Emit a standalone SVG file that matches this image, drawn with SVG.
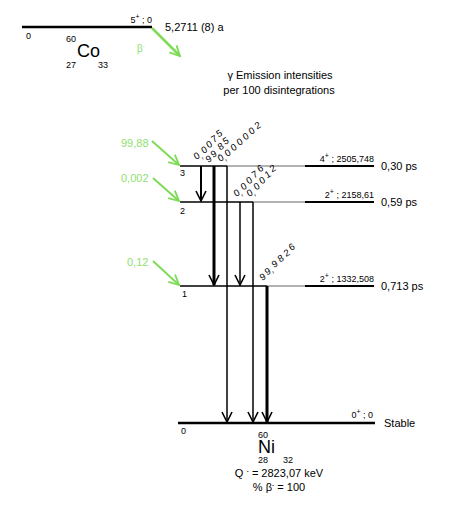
<svg xmlns="http://www.w3.org/2000/svg" width="474" height="518" viewBox="0 0 474 518">
<defs>
<style>
text{font-family:"Liberation Sans",Arial,sans-serif;fill:#000}
.s{font-size:9px}
.m{font-size:11px}
.big{font-size:18px}
.g{fill:#8fe070}
.lab{font-size:9px}
.st{font-size:10px}
.gl{font-size:9.5px}
.lvl{stroke:#000;stroke-width:2}
.thin{stroke:#666;stroke-width:1}
.gam{stroke:#000;fill:none}
.beta{stroke:#7ddc55;fill:none;stroke-width:2}
</style>
<marker id="ah" markerUnits="userSpaceOnUse" markerWidth="12" markerHeight="12" refX="0" refY="0" orient="auto" overflow="visible">
<path d="M-10,-5 L0,0 L-10,5" fill="none" stroke="#000" stroke-width="1.6"/>
</marker>
<marker id="gh" markerUnits="userSpaceOnUse" markerWidth="12" markerHeight="12" refX="0" refY="0" orient="auto" overflow="visible">
<path d="M-10,-5 L0,0 L-10,5" fill="none" stroke="#7ddc55" stroke-width="1.8"/>
</marker>
</defs>
<rect width="474" height="518" fill="#fff"/>

<g id="co60">
<line x1="22" y1="27" x2="152" y2="27" stroke="#000" stroke-width="2.5"/>
<text x="152" y="23" class="lab" text-anchor="end">5<tspan dy="-4" style="font-size:7px">+</tspan><tspan dy="4"> ; 0</tspan></text>
<text x="165" y="31" class="m">5,2711 (8) a</text>
<text x="26" y="39" class="s">0</text>
<text x="66" y="42" class="s">60</text>
<text x="77" y="57" class="big">Co</text>
<text x="66" y="68" class="s">27</text>
<text x="98" y="68" class="s">33</text>
</g>

<g id="title">
<text x="280" y="79" class="m" text-anchor="middle">γ Emission intensities</text>
<text x="279" y="94" class="m" text-anchor="middle">per 100 disintegrations</text>
</g>

<g id="level3">
<line x1="180" y1="166" x2="227" y2="166" class="lvl" style="stroke-width:1.5"/>
<line x1="227" y1="166" x2="305" y2="166" class="thin"/>
<line x1="305" y1="166" x2="374" y2="166" class="lvl"/>
<text x="374" y="162" class="lab" text-anchor="end">4<tspan dy="-4" style="font-size:7px">+</tspan><tspan dy="4"> ; 2505,748</tspan></text>
<text x="381" y="170" class="m">0,30 ps</text>
<text x="180" y="176" class="s">3</text>
</g>

<g id="level2">
<line x1="180" y1="202" x2="253" y2="202" class="lvl" style="stroke-width:1.5"/>
<line x1="253" y1="202" x2="305" y2="202" class="thin"/>
<line x1="305" y1="202" x2="374" y2="202" class="lvl"/>
<text x="374" y="198" class="lab" text-anchor="end">2<tspan dy="-4" style="font-size:7px">+</tspan><tspan dy="4"> ; 2158,61</tspan></text>
<text x="381" y="206" class="m">0,59 ps</text>
<text x="180" y="214" class="s">2</text>
</g>

<g id="level1">
<line x1="180" y1="286" x2="267" y2="286" class="lvl" style="stroke-width:1.5"/>
<line x1="267" y1="286" x2="305" y2="286" class="thin"/>
<line x1="305" y1="286" x2="374" y2="286" class="lvl"/>
<text x="374" y="282" class="lab" text-anchor="end">2<tspan dy="-4" style="font-size:7px">+</tspan><tspan dy="4"> ; 1332,508</tspan></text>
<text x="381" y="290" class="m">0,713 ps</text>
<text x="182" y="297" class="s">1</text>
</g>

<g id="ni60">
<line x1="178" y1="423" x2="375" y2="423" stroke="#000" stroke-width="2.5"/>
<text x="373" y="418" class="lab" text-anchor="end">0<tspan dy="-4" style="font-size:7px">+</tspan><tspan dy="4"> ; 0</tspan></text>
<text x="384" y="427" class="m">Stable</text>
<text x="181" y="434" class="s">0</text>
<text x="258" y="438" class="s">60</text>
<text x="258" y="453" class="big">Ni</text>
<text x="258" y="463" class="s">28</text>
<text x="283" y="463" class="s">32</text>
<text x="279" y="477" class="m" text-anchor="middle">Q <tspan dy="-4" style="font-size:7px">-</tspan><tspan dy="4"> = 2823,07 keV</tspan></text>
<text x="279" y="491" class="m" text-anchor="middle">% β<tspan dy="-4" style="font-size:7px">-</tspan><tspan dy="4"> = 100</tspan></text>
</g>

<g id="connectors">
<line x1="152" y1="28" x2="180" y2="56" class="beta" style="stroke-width:2.5" marker-end="url(#gh)"/>
<text x="137" y="52" class="st g">β<tspan dy="-4" style="font-size:6px">-</tspan></text>
<line x1="152" y1="141" x2="179" y2="165" class="beta" marker-end="url(#gh)"/>
<text x="121" y="147" class="m g">99,88</text>
<line x1="153" y1="178" x2="179" y2="201" class="beta" marker-end="url(#gh)"/>
<text x="121" y="182" class="m g">0,002</text>
<line x1="153" y1="261" x2="179" y2="285" class="beta" marker-end="url(#gh)"/>
<text x="127" y="266" class="m g">0,12</text>

<line x1="201" y1="166" x2="201" y2="201" class="gam" stroke-width="2" marker-end="url(#ah)"/>
<line x1="214" y1="166" x2="214" y2="285" class="gam" stroke-width="3" marker-end="url(#ah)"/>
<line x1="227" y1="166" x2="227" y2="422" class="gam" stroke-width="1.5" marker-end="url(#ah)"/>
<line x1="240" y1="202" x2="240" y2="285" class="gam" stroke-width="1.5" marker-end="url(#ah)"/>
<line x1="253" y1="202" x2="253" y2="422" class="gam" stroke-width="1.5" marker-end="url(#ah)"/>
<line x1="267" y1="286" x2="267" y2="422" class="gam" stroke-width="3" marker-end="url(#ah)"/>

<text class="gl" x="196 201.5 203.5 208.5 213.5 218.5" y="160 159 154 148.5 143 137.5" rotate="-30">0,0075</text>
<text class="gl" x="208 213 218 220 225" y="163 158 156 150.5 145" rotate="-30">99,85</text>
<text class="gl" x="220 225 227 233 239 245 251 257" y="162 161 157 151.5 146 140.5 135 129.5" rotate="-30">0,000002</text>
<text class="gl" x="236 241 243 248.5 254 259.5" y="197 196 190.5 184.5 178.5 172.5" rotate="-30">0,0076</text>
<text class="gl" x="249 254 256 261.5 267 272" y="197 196 190.5 184.5 178.5 172.5" rotate="-30">0,0012</text>
<text class="gl" x="262 267 272 274 280 286 291" y="281 275.5 273 268 262.5 257 251" rotate="-30">99,9826</text>
</g>
</svg>
